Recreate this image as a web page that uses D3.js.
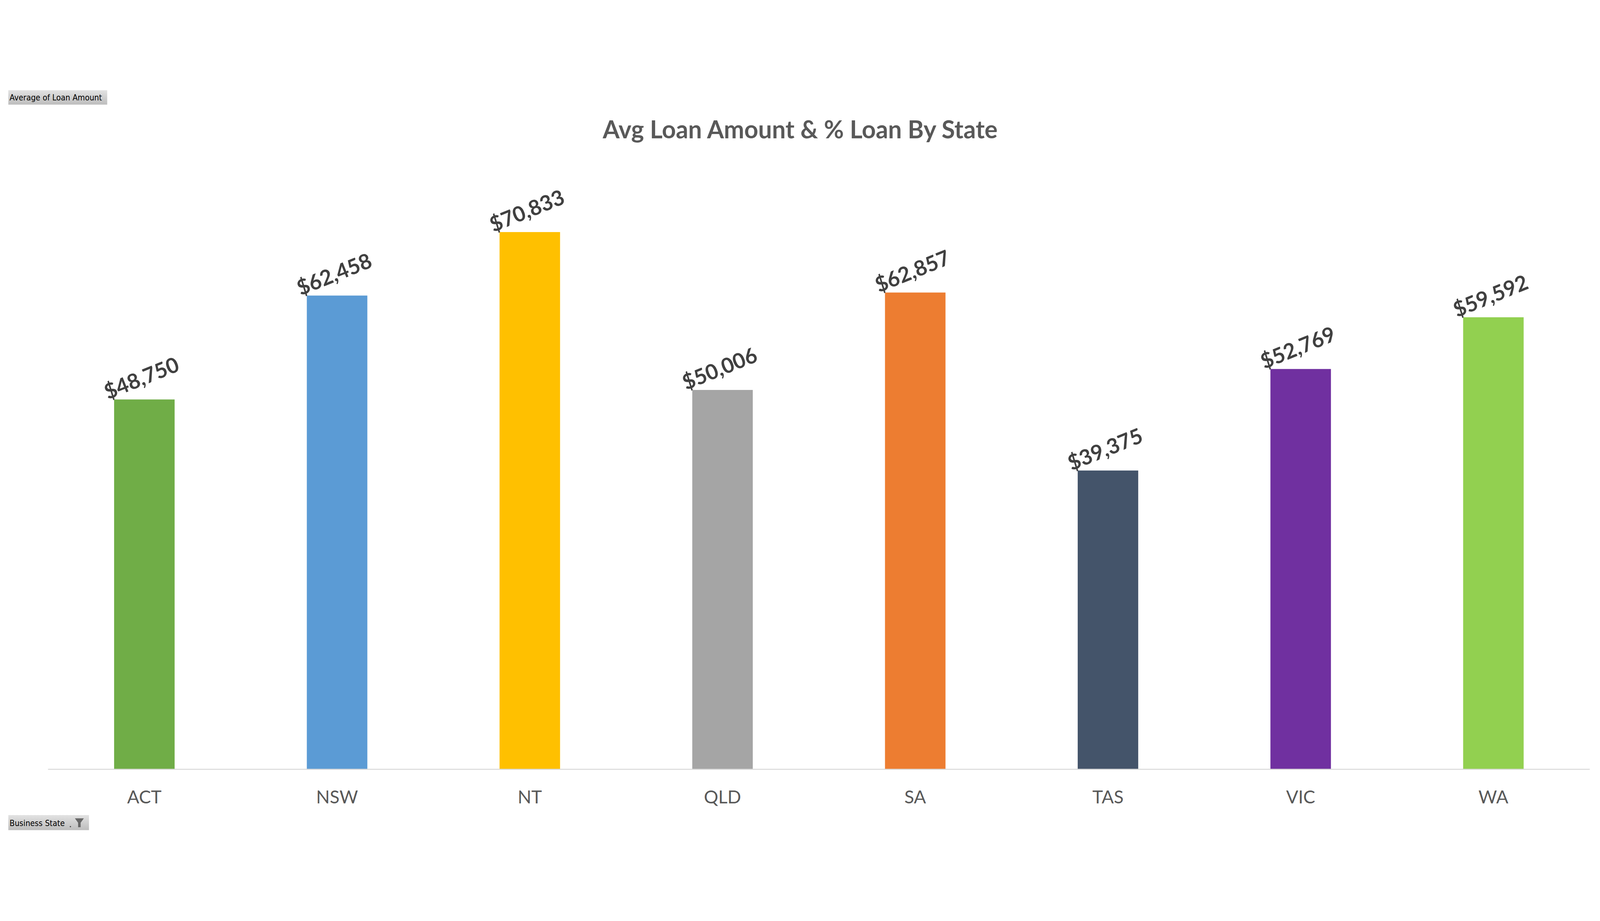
<!DOCTYPE html>
<html><head><meta charset="utf-8">
<script src="https://cdn.jsdelivr.net/npm/d3@7"></script>
<style>html,body{margin:0;padding:0;background:#fff;overflow:hidden;width:100%;height:100%}svg{display:block;width:100vw;height:100vh}</style></head>
<body><svg id="c" viewBox="0 0 4999 2357" preserveAspectRatio="xMidYMid meet"></svg>
<script>
const categories = ["ACT","NSW","NT","QLD","SA","TAS","VIC","WA"];
const values = [48750,62458,70833,50006,62857,39375,52769,59592];
const colors = ["#70AD47","#5B9BD5","#FFC000","#A5A5A5","#ED7D31","#44546A","#7030A0","#92D050"];
const title = "Avg Loan Amount & % Loan By State";

const svg = d3.select("#c");
const font = "Lato, 'Open Sans', sans-serif";
const x = d3.scaleBand().domain(categories).range([150,4967]).paddingInner(0.686).paddingOuter(0.343);
const y = d3.scaleLinear().domain([0,80000]).range([2142,248]);

svg.append("text").attr("x",2500).attr("y",172).attr("text-anchor","middle")
  .attr("font-family",font).attr("font-weight","bold").attr("font-size",76).attr("fill","#595959").text(title);

svg.selectAll("rect.bar").data(values).enter().append("rect")
  .attr("x",(d,i)=>x(categories[i])).attr("width",x.bandwidth())
  .attr("y",d=>y(d)).attr("height",d=>y(0)-y(d)).attr("fill",(d,i)=>colors[i]);

svg.append("line").attr("x1",150).attr("x2",4967).attr("y1",2143).attr("y2",2143).attr("stroke","#d9d9d9").attr("stroke-width",3);

const fmt = d3.format("$,.0f");
svg.selectAll("text.lbl").data(values).enter().append("text")
  .attr("transform",(d,i)=>`translate(${x(categories[i])+x.bandwidth()/2},${y(d)-45}) rotate(-22)`)
  .attr("text-anchor","middle").attr("font-family",font).attr("font-weight","bold")
  .attr("font-size",66).attr("fill","#404040").text(d=>fmt(d));

svg.selectAll("text.cat").data(categories).enter().append("text")
  .attr("x",d=>x(d)+x.bandwidth()/2).attr("y",2250).attr("text-anchor","middle")
  .attr("font-family",font).attr("font-size",56).attr("fill","#595959").text(d=>d);

function button(x0,y0,w,h,label,filter){
  const g=svg.append("g");
  const gid="g"+x0+"_"+y0;
  const gr=svg.append("defs").append("linearGradient").attr("id",gid).attr("x1",0).attr("x2",0).attr("y1",0).attr("y2",1);
  gr.append("stop").attr("offset",0).attr("stop-color","#e2e2e2");
  gr.append("stop").attr("offset",1).attr("stop-color","#bdbdbd");
  g.append("rect").attr("x",x0).attr("y",y0).attr("width",w).attr("height",h).attr("fill",`url(#${gid})`);
  g.append("text").attr("x",x0+4).attr("y",y0+h*0.72).attr("font-family","'DejaVu Sans Condensed','Liberation Sans Narrow',sans-serif")
    .attr("font-size",26).attr("fill","#000").text(label);
  if(filter){
    const fx=x0+w-30, fy=y0+10;
    g.append("path").attr("d",`M${fx-14},${fy} L${fx+14},${fy} L${fx+4},${fy+14} L${fx+4},${fy+28} L${fx-4},${fy+28} L${fx-4},${fy+14} Z`).attr("fill","#666");
    g.append("circle").attr("cx",fx-28).attr("cy",fy+26).attr("r",2).attr("fill","#444");
  }
}
button(26,22,309,45,"Average of Loan Amount",false);
button(26,2286,252,47,"Business State",true);
</script></body></html>
